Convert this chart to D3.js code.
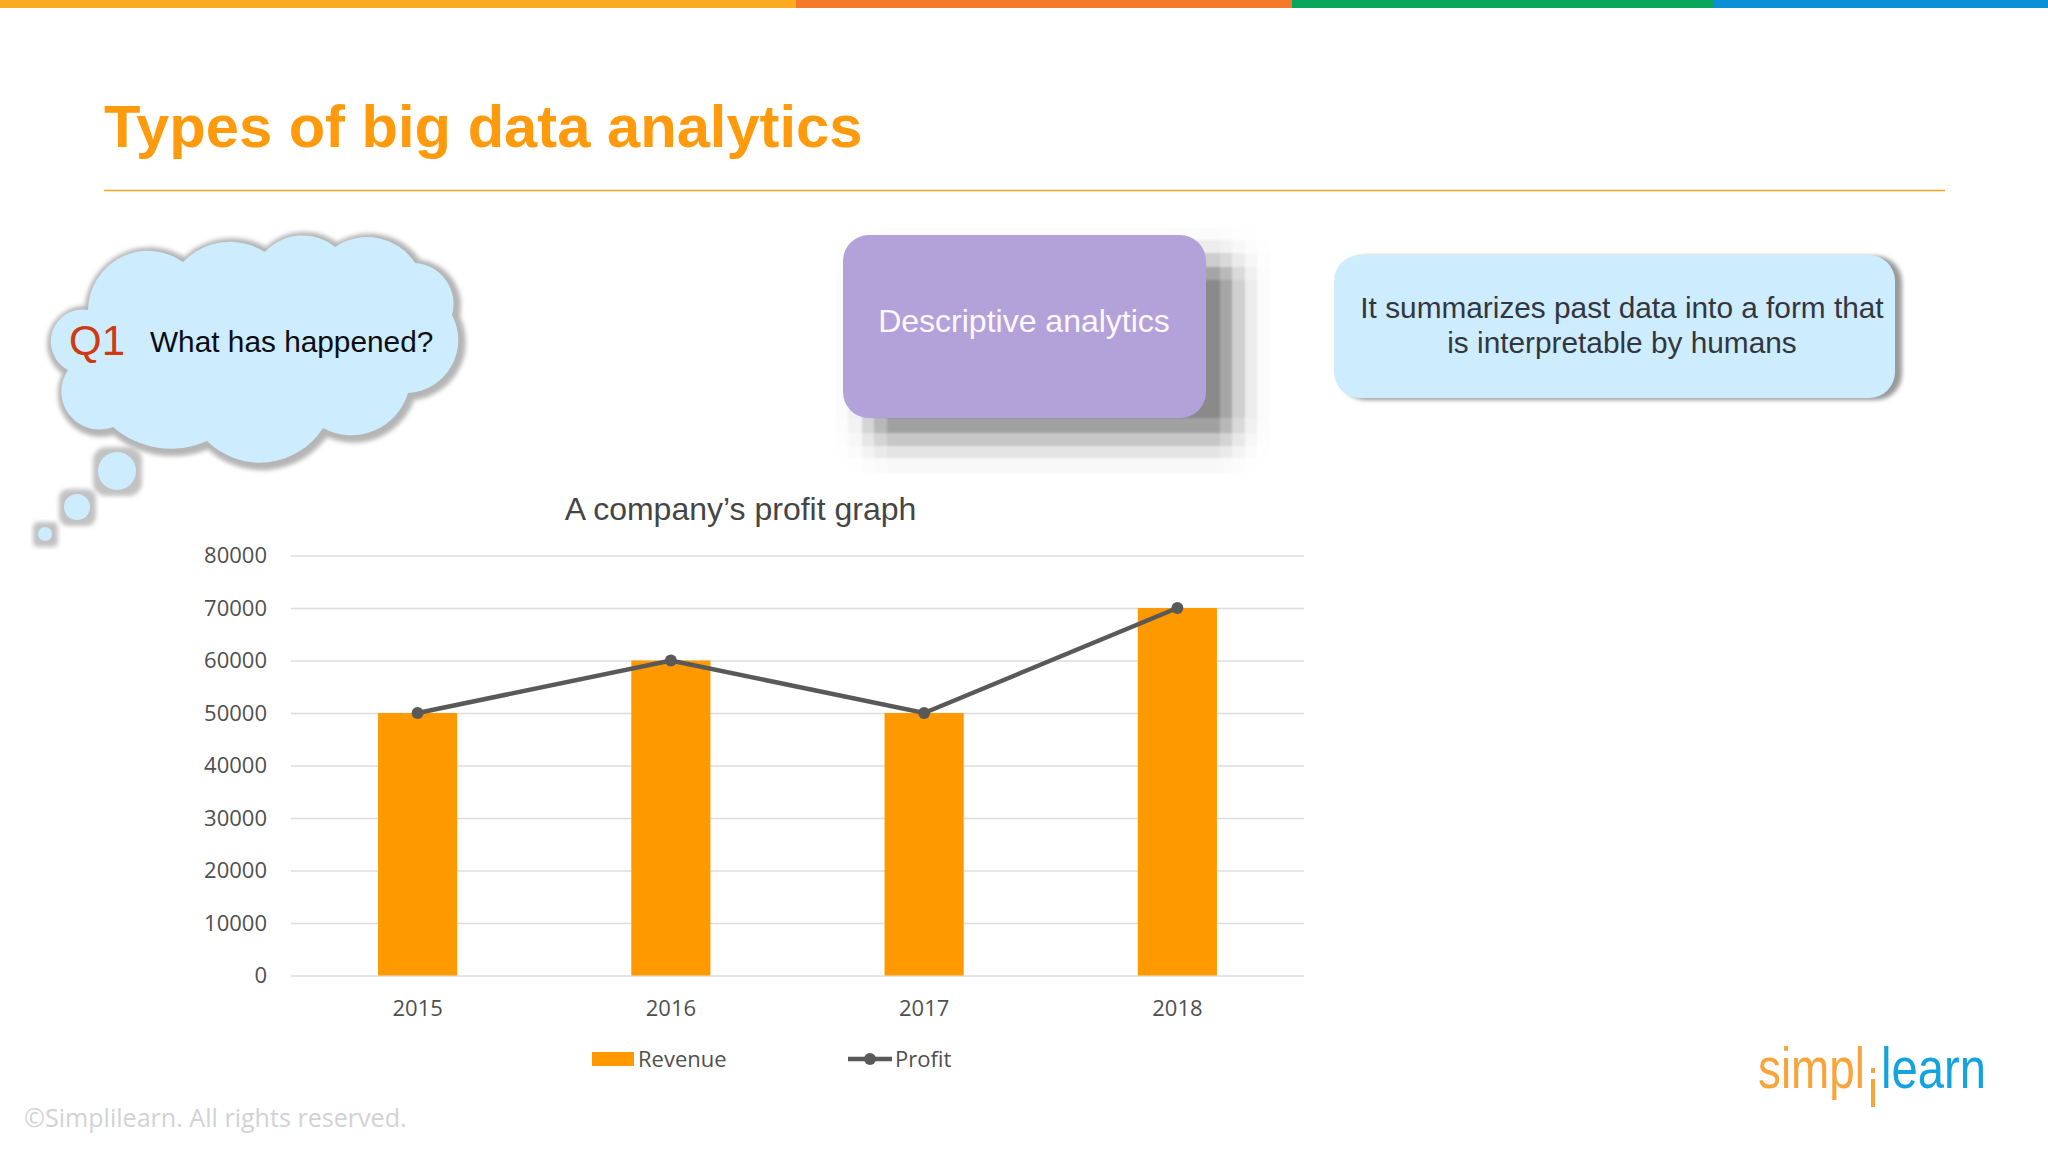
<!DOCTYPE html>
<html>
<head>
<meta charset="utf-8">
<script src="https://cdn.jsdelivr.net/npm/d3@7"></script>
<style>
  html, body { margin: 0; padding: 0; background: #fff; }
  svg { display: block; }
  text { font-family: "Liberation Sans", Arial, sans-serif; }
  .tick text, .legend text { font-family: "Open Sans", sans-serif; }
</style>
</head>
<body>
<svg width="2048" height="1152"></svg>
<script>
// chart values
const years = ['2015', '2016', '2017', '2018'];
const revenue = [50000, 60000, 50000, 70000];
const profit = [50000, 60000, 50000, 70000];
const yTicks = [0, 10000, 20000, 30000, 40000, 50000, 60000, 70000, 80000];

const orange = '#ff9900';
const grey = '#595959';

const svg = d3.select('svg');
const defs = svg.append('defs');
defs.append('filter').attr('id', 'soft').append('feGaussianBlur').attr('stdDeviation', 2.2);
defs.append('filter').attr('id', 'softer').append('feGaussianBlur').attr('stdDeviation', 1);

// coloured strip on top of the slide
const strip = [[0, 796, '#fbab1f'], [796, 1292, '#f47a2a'], [1292, 1714, '#0aa65c'], [1714, 2048, '#0b8fd6']];
svg.selectAll('.strip').data(strip).join('rect')
  .attr('x', d => d[0]).attr('y', 0).attr('width', d => d[1] - d[0]).attr('height', 8)
  .attr('fill', d => d[2]);

// title
svg.append('text').attr('x', 104).attr('y', 147)
  .attr('font-size', 59.7).attr('font-weight', 'bold').attr('fill', '#ff9a0d')
  .text('Types of big data analytics');
svg.append('line').attr('x1', 104).attr('x2', 1945).attr('y1', 190.5).attr('y2', 190.5)
  .attr('stroke', '#f5a623').attr('stroke-width', 1.6);

// thought cloud
const cloud = 'M88,310 A60,60 0 0 1 183,262 A65,65 0 0 1 265,252 A51,51 0 0 1 335,247 A57,57 0 0 1 415,263'
  + ' A41,41 0 0 1 452,315 A53,53 0 0 1 408,393 A59,59 0 0 1 323,428 A75,75 0 0 1 207,441'
  + ' A88,88 0 0 1 113,427 A38,38 0 0 1 68,370 A32,32 0 0 1 88,310 Z';
const bubbles = [[117, 471, 19], [77, 507, 13], [45, 534, 7]];

svg.append('path').attr('d', cloud).attr('fill', '#b5b5b5').attr('stroke', '#b5b5b5')
  .attr('stroke-width', 11).attr('transform', 'translate(2,2)').attr('filter', 'url(#soft)');
svg.selectAll('.bubbleShadow').data(bubbles).join('rect')
  .attr('x', d => d[0] - d[2] - 5).attr('y', d => d[1] - d[2] - 5)
  .attr('width', d => d[2] * 2 + 11).attr('height', d => d[2] * 2 + 11)
  .attr('rx', d => d[2] * 0.7).attr('fill', '#c2c2c2').attr('filter', 'url(#soft)');
svg.append('path').attr('d', cloud).attr('fill', '#cdecfd');
svg.selectAll('.bubble').data(bubbles).join('circle')
  .attr('cx', d => d[0]).attr('cy', d => d[1]).attr('r', d => d[2]).attr('fill', '#cdecfd');
svg.append('text').attr('x', 69).attr('y', 355).attr('font-size', 42).attr('fill', '#d03a10').text('Q1');
svg.append('text').attr('x', 150).attr('y', 352).attr('font-size', 29.8).attr('fill', '#0c0c14').text('What has happened?');

// purple box, its shadow is a coarse grid of grey blocks
const colSteps = [[836, 848, 0.03], [848, 862, 0.14], [862, 874, 0.45], [874, 887, 0.76], [887, 1220, 1],
  [1220, 1232, 0.76], [1232, 1245, 0.4], [1245, 1257, 0.16], [1257, 1270, 0.03]];
const rowSteps = [[228, 240, 0.03], [240, 253, 0.15], [253, 267, 0.43], [267, 280, 0.78], [280, 418, 1],
  [418, 433, 0.8], [433, 446, 0.48], [446, 458, 0.23], [458, 473, 0.06]];
svg.append('g').attr('filter', 'url(#softer)').selectAll('rect').data(d3.cross(colSteps, rowSteps)).join('rect')
  .attr('x', d => d[0][0]).attr('y', d => d[1][0])
  .attr('width', d => d[0][1] - d[0][0]).attr('height', d => d[1][1] - d[1][0])
  .attr('shape-rendering', 'crispEdges')
  .attr('fill', '#000').attr('fill-opacity', d => 0.46 * d[0][2] * d[1][2]);
svg.append('rect').attr('x', 843).attr('y', 235).attr('width', 363).attr('height', 183).attr('rx', 26)
  .attr('fill', '#b3a2d9');
svg.append('text').attr('x', 1024).attr('y', 332).attr('text-anchor', 'middle')
  .attr('font-size', 32).attr('fill', '#fdf8ff').text('Descriptive analytics');

// blue description box
svg.append('rect').attr('x', 1340).attr('y', 256).attr('width', 562).attr('height', 144).attr('rx', 26)
  .attr('fill', '#9a9a9a').attr('filter', 'url(#soft)');
svg.append('rect').attr('x', 1334).attr('y', 255).attr('width', 561).attr('height', 143).attr('rx', 26)
  .attr('fill', '#cdecfd');
svg.selectAll('.desc').data(['It summarizes past data into a form that', 'is interpretable by humans']).join('text')
  .attr('x', 1622).attr('y', (d, i) => 318 + i * 35).attr('text-anchor', 'middle')
  .attr('font-size', 29.8).attr('fill', '#33363f').text(d => d);

// chart
const x = d3.scaleBand().domain(years).range([291, 1304]).paddingInner(0.6875).paddingOuter(0.34375);
const y = d3.scaleLinear().domain([0, 80000]).range([975.5, 555.5]);

svg.append('text').attr('x', 740.5).attr('y', 520).attr('text-anchor', 'middle')
  .attr('font-size', 32).attr('fill', '#454545').text('A company\u2019s profit graph');

const yAxis = svg.append('g').attr('transform', 'translate(291,0)')
  .call(d3.axisLeft(y).tickValues(yTicks).tickSize(-1013).tickPadding(24).tickFormat(d3.format('d')));
yAxis.select('.domain').remove();
yAxis.selectAll('line').attr('stroke', '#dcdcdc').attr('stroke-width', 1.6);
yAxis.selectAll('text').attr('font-size', 22).attr('fill', '#4f4f4f');

const xAxis = svg.append('g').attr('transform', 'translate(0,975.5)')
  .call(d3.axisBottom(x).tickSize(0).tickPadding(25));
xAxis.select('.domain').remove();
xAxis.selectAll('text').attr('font-size', 22).attr('fill', '#4f4f4f');

svg.selectAll('.bar').data(revenue).join('rect')
  .attr('x', (d, i) => x(years[i])).attr('y', d => y(d))
  .attr('width', x.bandwidth()).attr('height', d => y(0) - y(d))
  .attr('fill', orange);

const line = d3.line().x((d, i) => x(years[i]) + x.bandwidth() / 2).y(d => y(d));
svg.append('path').attr('d', line(profit)).attr('fill', 'none')
  .attr('stroke', grey).attr('stroke-width', 4.5);
svg.selectAll('.dot').data(profit).join('circle')
  .attr('cx', (d, i) => x(years[i]) + x.bandwidth() / 2).attr('cy', d => y(d)).attr('r', 6)
  .attr('fill', grey);

// legend
const legend = svg.append('g').attr('class', 'legend');
legend.append('rect').attr('x', 592).attr('y', 1052).attr('width', 42).attr('height', 14).attr('fill', orange);
legend.append('text').attr('x', 638).attr('y', 1067).attr('font-size', 22).attr('fill', '#4f4f4f').text('Revenue');
legend.append('line').attr('x1', 848).attr('x2', 892).attr('y1', 1059).attr('y2', 1059)
  .attr('stroke', grey).attr('stroke-width', 4.5);
legend.append('circle').attr('cx', 870).attr('cy', 1059).attr('r', 6).attr('fill', grey);
legend.append('text').attr('x', 895).attr('y', 1067).attr('font-size', 22).attr('fill', '#4f4f4f').text('Profit');

// footer
svg.append('text').attr('x', 24).attr('y', 1127).attr('font-size', 25.1)
  .style('font-family', '"Open Sans", sans-serif').attr('fill', '#d2d2d4')
  .text('\u00a9Simplilearn. All rights reserved.');

// logo
const logo = svg.append('g').style('font-family', 'Lato, sans-serif').attr('font-size', 57).attr('font-weight', 300);
logo.append('text').attr('x', 1758).attr('y', 1088).attr('fill', '#f9a43a')
  .attr('textLength', 107).attr('lengthAdjust', 'spacingAndGlyphs').text('simpl');
logo.append('text').attr('x', 1881).attr('y', 1088).attr('fill', '#14a3de')
  .attr('textLength', 105).attr('lengthAdjust', 'spacingAndGlyphs').text('learn');
logo.append('rect').attr('x', 1871).attr('y', 1068).attr('width', 4).attr('height', 5).attr('fill', '#f9a43a');
logo.append('rect').attr('x', 1871).attr('y', 1079).attr('width', 4).attr('height', 28).attr('fill', '#f9a43a');
</script>
</body>
</html>
